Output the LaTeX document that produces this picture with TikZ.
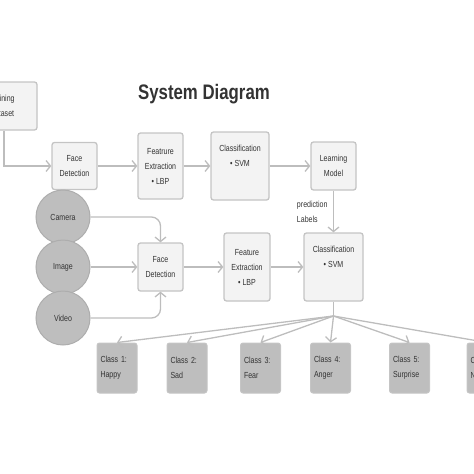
\documentclass[tikz,border=0pt]{standalone}
\usepackage{fontspec}
\setmainfont{Liberation Sans}[FakeStretch=0.8]
\usetikzlibrary{arrows.meta}

\definecolor{boxfill}{HTML}{F3F3F3}
\definecolor{boxline}{HTML}{C4C4C4}
\definecolor{darkfill}{HTML}{BEBEBE}
\definecolor{darkline}{HTML}{ADADAD}
\definecolor{flowline}{HTML}{BDBDBD}
\definecolor{ink}{HTML}{333333}

\tikzset{
  box/.style={draw=boxline, fill=boxfill, line width=1.3pt, rounded corners=2.5pt,
    align=center, text=ink, font=\fontsize{8.8}{15}\selectfont, inner sep=0pt},
  source/.style={circle, draw=darkline, fill=darkfill, line width=1pt, minimum size=54pt,
    text=ink, font=\fontsize{8.8}{15}\selectfont, inner sep=0pt},
  classbox/.style={draw=darkfill!90!white, fill=darkfill, line width=1pt, rounded corners=2.5pt,
    minimum width=40pt, minimum height=50pt, text width=33pt, align=left, text=ink,
    font=\fontsize{8.8}{15}\selectfont, inner sep=0pt},
  flow/.style={draw=flowline, line width=1.3pt, -{Straight Barb[length=4.5pt,width=11pt,line width=1.3pt]}},
}

\begin{document}
\begin{tikzpicture}[x=1pt, y=-1pt]
  \useasboundingbox (0,0) rectangle (474,474);

  % title
  \node[text=ink, font=\fontsize{21}{24}\selectfont\bfseries] (title) at (204,94) {System Diagram};

  % training path
  \node[box, minimum width=70pt, minimum height=48pt] (train) at (2,106) {Training\\Dataset};
  \node[box, minimum width=45pt, minimum height=47pt] (fdA) at (74.5,166) {Face\\Detection};
  \node[box, minimum width=45pt, minimum height=66pt] (feA) at (160.5,166) {Featrure\\Extraction\\• LBP};
  \node[box, minimum width=58pt, minimum height=68pt] (clsA) at (240,166) {Classification\\• SVM\\\strut};
  \node[box, minimum width=45pt, minimum height=48pt] (learn) at (333.5,166) {Learning\\Model};

  % inputs
  \node[source] (cam) at (63,217) {Camera};
  \node[source] (img) at (63,267) {Image};
  \node[source] (vid) at (63,318) {Video};

  % testing path
  \node[box, minimum width=45pt, minimum height=48pt] (fdB) at (160.5,267) {Face\\Detection};
  \node[box, minimum width=46pt, minimum height=68pt] (feB) at (247,267) {Feature\\Extraction\\• LBP};
  \node[box, minimum width=59pt, minimum height=68pt] (clsB) at (333.5,267) {Classification\\• SVM\\\strut};

  % classes
  \node[classbox] (happy) at (117,368) {Class 1:\\Happy};
  \node[classbox] (sad) at (187,368) {Class 2:\\Sad};
  \node[classbox] (fear) at (260.5,368) {Class 3:\\Fear};
  \node[classbox] (anger) at (330.5,368) {Class 4:\\Anger};
  \node[classbox] (surprise) at (409.5,368) {Class 5:\\Surprise};
  \node[classbox] (neutral) at (487,368) {Class 6:\\Neutral};

  % connectors
  \draw[flow] ([xshift=2pt]train.south) |- (fdA.west);
  \draw[flow] (fdA) -- (feA);
  \draw[flow] (feA) -- (clsA);
  \draw[flow] (clsA) -- (learn);
  \draw[flow] (learn) -- node[left, align=left, text=ink, font=\fontsize{8.8}{15}\selectfont, xshift=-2pt] (predlabel) {prediction\\Labels} (clsB);

  \draw[flow, rounded corners=9pt] (cam.east) -| (fdB.north);
  \draw[flow] (img) -- (fdB);
  \draw[flow, rounded corners=9pt] (vid.east) -| (fdB.south);
  \draw[flow] (fdB) -- (feB);
  \draw[flow] (feB) -- (clsB);

  \coordinate (hub) at (333.5,316);
  \draw[draw=flowline, line width=1.3pt] (clsB.south) -- (hub);
  \foreach \c in {happy, sad, fear, anger, surprise, neutral}
    \draw[flow] (hub) -- (\c.north);
\end{tikzpicture}
\end{document}
